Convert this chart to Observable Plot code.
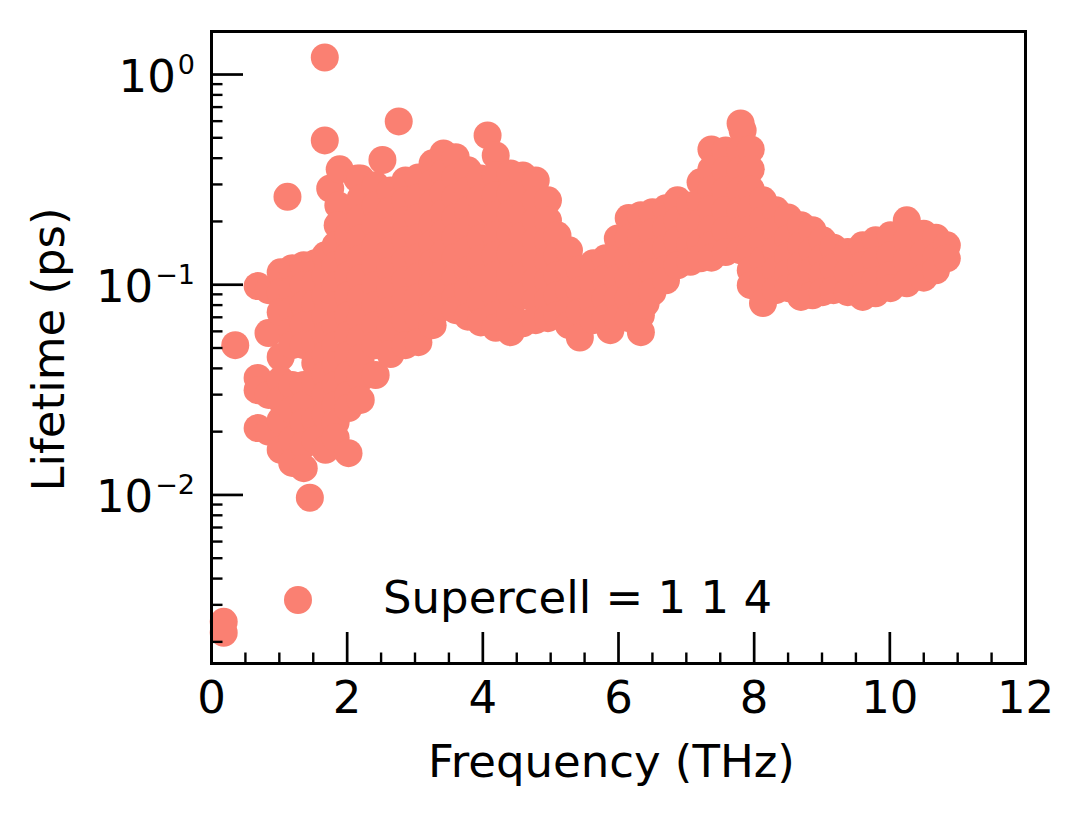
<!DOCTYPE html>
<html>
<head>
<meta charset="utf-8">
<script src="https://cdn.jsdelivr.net/npm/d3@7"></script>
<script src="https://cdn.jsdelivr.net/npm/@observablehq/plot@0.6"></script>
<style>
  html, body { margin: 0; padding: 0; background: #fff; }
  #chart svg { display: block; }
</style>
</head>
<body>
<div id="chart"></div>
<script>
// ---- Data (frequency in THz, lifetime in ps) ----
const isolatedPoints = [
  [0.18, 0.00249], [0.18, 0.00221], [0.35, 0.0516], [1.45, 0.0097],
  [1.67, 1.205], [1.67, 0.486], [1.12, 0.262], [2.52, 0.392],
  [2.76, 0.598], [4.07, 0.513], [7.83, 0.542], [5.88, 0.0608], [6.40, 0.0816],
  [1.75, 0.287], [1.89, 0.354], [1.87, 0.2385], [1.86, 0.1918], [2.15, 0.320]
];

// columns: [frequency, [lifetimes ...]]
const acousticColumns = [
  [0.68, [0.0985, 0.0360, 0.0315, 0.0208]],
  [0.84, [0.0942, 0.0589, 0.0299, 0.0200]],
  [1.02, [0.1145, 0.0921, 0.0740, 0.0453, 0.0352, 0.0283, 0.0227, 0.0164]],
  [1.19, [0.1198, 0.0942, 0.0757, 0.0608, 0.0516, 0.0333, 0.0253, 0.0183, 0.0142]],
  [1.36, [0.1238, 0.0995, 0.0800, 0.0642, 0.0516, 0.0333, 0.0268, 0.0222, 0.0173, 0.0134]],
  [1.53, [0.1265, 0.1015, 0.0815, 0.0656, 0.0527, 0.0424, 0.0340, 0.0227, 0.0183]],
  [1.68, [0.138, 0.111, 0.0891, 0.0716, 0.0576, 0.0463, 0.0372, 0.0299, 0.0240, 0.0164]],
  [1.83, [0.154, 0.1238, 0.0995, 0.080, 0.0642, 0.0516, 0.0415, 0.0333, 0.0268, 0.0222, 0.0187]],
  [2.02, [0.1718, 0.138, 0.111, 0.0891, 0.0716, 0.0576, 0.0463, 0.0372, 0.0299, 0.0259, 0.0158]]
];

const midColumns = [
  [2.20, [0.320, 0.258, 0.207, 0.166, 0.133, 0.107, 0.086, 0.0693, 0.0557, 0.0448, 0.036, 0.0283]],
  [2.42, [0.297, 0.2385, 0.1918, 0.154, 0.1238, 0.0995, 0.080, 0.0642, 0.0516, 0.0372]],
  [2.64, [0.281, 0.226, 0.1815, 0.1458, 0.1172, 0.0942, 0.0757, 0.0608, 0.0468]],
  [2.86, [0.3135, 0.252, 0.2025, 0.1627, 0.1307, 0.105, 0.0844, 0.0678, 0.0516]],
  [3.05, [0.324, 0.260, 0.209, 0.168, 0.135, 0.109, 0.0871, 0.070, 0.0533]],
  [3.26, [0.378, 0.304, 0.244, 0.196, 0.157, 0.1265, 0.1015, 0.0816, 0.0642]],
  [3.42, [0.421, 0.338, 0.272, 0.218, 0.175, 0.141, 0.1135, 0.0911, 0.0782]],
  [3.60, [0.404, 0.324, 0.260, 0.209, 0.168, 0.135, 0.109, 0.0871, 0.0757]],
  [3.78, [0.350, 0.281, 0.226, 0.1815, 0.1458, 0.1172, 0.0942, 0.0705]],
  [3.97, [0.320, 0.258, 0.207, 0.166, 0.133, 0.107, 0.0844, 0.0662]],
  [4.19, [0.412, 0.331, 0.266, 0.214, 0.1718, 0.138, 0.111, 0.0891, 0.0716, 0.0624]],
  [4.41, [0.338, 0.272, 0.218, 0.175, 0.141, 0.1135, 0.0911, 0.0732, 0.0595]],
  [4.59, [0.331, 0.266, 0.214, 0.1718, 0.138, 0.111, 0.0891, 0.0655]],
  [4.78, [0.3135, 0.252, 0.2025, 0.1627, 0.1307, 0.105, 0.0844, 0.0678]],
  [4.96, [0.252, 0.2025, 0.1627, 0.1307, 0.105, 0.0844, 0.0693]]
];

const opticalColumns = [
  [5.10, [0.1718, 0.138, 0.111, 0.0891, 0.0716]],
  [5.27, [0.1458, 0.1172, 0.0942, 0.0757, 0.0642]],
  [5.43, [0.1185, 0.0942, 0.0742, 0.0561]],
  [5.63, [0.1265, 0.1015, 0.0816, 0.0678]],
  [5.81, [0.1335, 0.107, 0.0862, 0.0693]],
  [5.99, [0.166, 0.1335, 0.107, 0.0862, 0.0693]],
  [6.15, [0.2075, 0.166, 0.1335, 0.107, 0.0862, 0.0693]],
  [6.33, [0.214, 0.1718, 0.138, 0.111, 0.0891, 0.0716, 0.0595]],
  [6.50, [0.221, 0.1775, 0.1428, 0.1148, 0.0922]],
  [6.70, [0.231, 0.1855, 0.149, 0.1185, 0.105]],
  [6.87, [0.252, 0.2025, 0.1627, 0.1238]],
  [7.06, [0.2385, 0.1918, 0.154, 0.1285]],
  [7.21, [0.307, 0.2465, 0.198, 0.159, 0.1335]]
];

const peakColumns = [
  [7.37, [0.440, 0.354, 0.284, 0.2285, 0.1835, 0.154, 0.1345]],
  [7.58, [0.435, 0.350, 0.281, 0.226, 0.1815, 0.143]],
  [7.80, [0.585, 0.435, 0.350, 0.281, 0.226, 0.1815, 0.1458]],
  [7.95, [0.440, 0.354, 0.284, 0.2285, 0.1835, 0.1475, 0.1172, 0.0995]],
  [8.13, [0.252, 0.2025, 0.1627, 0.1307, 0.105, 0.0818]]
];

const highColumns = [
  [8.32, [0.226, 0.1815, 0.1458, 0.1172, 0.0942]],
  [8.50, [0.209, 0.166, 0.1364, 0.1133, 0.0963]],
  [8.69, [0.1918, 0.154, 0.1238, 0.103, 0.0875]],
  [8.86, [0.1815, 0.1458, 0.1172, 0.0891]],
  [9.01, [0.1627, 0.1335, 0.111, 0.0922]],
  [9.17, [0.150, 0.1212, 0.0942]],
  [9.38, [0.143, 0.1145, 0.0922]],
  [9.60, [0.154, 0.1238, 0.0995, 0.0875]],
  [9.79, [0.1627, 0.1307, 0.105, 0.0911]],
  [10.01, [0.1718, 0.138, 0.111, 0.0963]],
  [10.25, [0.2025, 0.1627, 0.1307, 0.1015]],
  [10.50, [0.175, 0.141, 0.108]],
  [10.68, [0.1675, 0.135, 0.1172]],
  [10.84, [0.154, 0.1335]]
];

const xMajorTicks = [0, 2, 4, 6, 8, 10, 12];
const xMinorTicks = [0.5, 1, 1.5, 2.5, 3, 3.5, 4.5, 5, 5.5, 6.5, 7, 7.5, 8.5, 9, 9.5, 10.5, 11, 11.5];
const yMajorTicks = [1, 0.1, 0.01];
const yMajorExponents = ["0", "\u22121", "\u22122"];
const yMinorTicks = [
  0.002, 0.003, 0.004, 0.005, 0.006, 0.007, 0.008, 0.009,
  0.02, 0.03, 0.04, 0.05, 0.06, 0.07, 0.08, 0.09,
  0.2, 0.3, 0.4, 0.5, 0.6, 0.7, 0.8, 0.9
];
const xLabel = "Frequency (THz)";
const yLabel = "Lifetime (ps)";
const legendLabel = "Supercell = 1 1 4";
const dotColor = "#FA8072";

// ---- Build table ----
const columns = [...acousticColumns, ...midColumns, ...opticalColumns, ...peakColumns, ...highColumns];
const points = [
  ...isolatedPoints.map(([f, l]) => ({f, l})),
  ...columns.flatMap(([f, ls]) => ls.map(l => ({f, l})))
];

const W = 1084, H = 815;
const mL = 211, mR = 59, mT = 31, mB = 152;
const plotW = W - mL - mR, plotH = H - mT - mB;
const FS = 45;

const chart = Plot.plot({
  width: W, height: H,
  marginLeft: mL, marginRight: mR, marginTop: mT, marginBottom: mB,
  style: {fontFamily: "DejaVu Sans", fontSize: FS + "px", background: "white", color: "black", overflow: "visible"},
  x: {domain: [0, 12]},
  y: {type: "log", domain: [0.001578, 1.602], axis: null},
  marks: [
    Plot.dot(points, {x: "f", y: "l", r: 14, fill: dotColor, stroke: "none"}),
    Plot.tickX(xMajorTicks, {x: d => d, insetTop: plotH - 31, stroke: "black", strokeWidth: 2.7}),
    Plot.tickX(xMinorTicks, {x: d => d, insetTop: plotH - 10.5, stroke: "black", strokeWidth: 2.4}),
    Plot.tickY(yMajorTicks, {y: d => d, insetRight: plotW - 32, stroke: "black", strokeWidth: 2.7}),
    Plot.tickY(yMinorTicks, {y: d => d, insetRight: plotW - 11.5, stroke: "black", strokeWidth: 2.4}),
    Plot.axisX({ticks: xMajorTicks, tickSize: 0, tickPadding: 18, label: null, fontSize: FS,
                tickFormat: d => String(d)}),
    Plot.frame({stroke: "black", strokeWidth: 3}),
    Plot.text([xLabel], {frameAnchor: "bottom", text: d => d, dx: -7, dy: 113,
                         lineAnchor: "bottom", textAnchor: "middle", fontSize: FS}),
    Plot.text([yLabel], {frameAnchor: "left", text: d => d, dx: -148, dy: 2, rotate: -90,
                         lineAnchor: "bottom", textAnchor: "middle", fontSize: FS})
  ]
});

const svg = d3.select(chart);
const yScale = chart.scale("y");

// y tick labels as 10 with a superscript exponent, positioned with Plot's y scale
const yLab = svg.append("g").attr("class", "y-tick-labels")
  .attr("font-family", "DejaVu Sans").attr("fill", "black").attr("text-anchor", "end");
yMajorTicks.forEach((v, i) => {
  const t = yLab.append("text")
    .attr("x", mL - 16)
    .attr("y", yScale.apply(v) + 18)
    .attr("font-size", FS);
  t.append("tspan").text("10");
  t.append("tspan").attr("font-size", 27).attr("dy", -18).attr("dx", 2).text(yMajorExponents[i]);
});

// legend (not data): marker and label in the lower-left of the frame
const lg = svg.append("g").attr("class", "legend");
lg.append("circle").attr("cx", 298).attr("cy", 600).attr("r", 14).attr("fill", dotColor);
lg.append("text").attr("x", 383).attr("y", 613)
  .attr("text-anchor", "start")
  .attr("font-family", "DejaVu Sans").attr("font-size", FS).attr("fill", "black")
  .text(legendLabel);

document.getElementById("chart").appendChild(chart);
</script>
</body>
</html>
